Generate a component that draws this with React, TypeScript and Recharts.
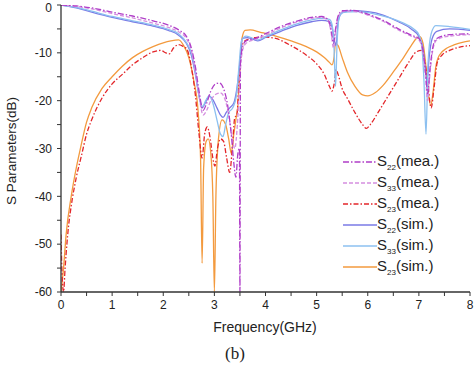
import React from 'react';
import { LineChart, Line, XAxis, YAxis } from 'recharts';

type P = [number, number];

const X_TICKS = [0, 0.5, 1, 1.5, 2, 2.5, 3, 3.5, 4, 4.5, 5, 5.5, 6, 6.5, 7, 7.5, 8];
const Y_TICKS = [-60, -55, -50, -45, -40, -35, -30, -25, -20, -15, -10, -5, 0];

const S22_MEA: P[] = [
  [0, 0], [0.3, -0.2], [0.6, -0.6], [1.0, -1.5], [1.4, -2.3], [1.8, -3.3], [2.1, -4.2], [2.3, -5.2],
  [2.45, -6.5], [2.55, -9], [2.63, -13], [2.7, -18], [2.78, -22], [2.85, -20.5], [2.93, -18], [3.02, -16.5],
  [3.1, -16.3], [3.18, -17.5], [3.26, -21], [3.33, -27], [3.38, -33], [3.42, -36], [3.46, -31], [3.49, -30],
  [3.5, -60], [3.51, -12], [3.56, -8.5], [3.62, -7.5], [3.8, -7], [4.0, -6], [4.3, -4.5], [4.6, -3.4],
  [4.9, -2.6], [5.1, -2.4], [5.22, -3], [5.28, -5], [5.33, -8], [5.37, -5], [5.42, -2.3], [5.5, -1.2],
  [5.7, -1.1], [6.0, -1.9], [6.3, -3.2], [6.6, -5], [6.85, -6.3], [7.0, -7], [7.08, -9.5], [7.13, -14],
  [7.17, -18.5], [7.22, -13], [7.28, -8.5], [7.35, -7], [7.6, -6.2], [8.0, -6],
];

const S33_MEA: P[] = [
  [0, 0], [0.3, -0.3], [0.6, -0.8], [1.0, -1.8], [1.4, -2.7], [1.8, -3.8], [2.1, -4.7], [2.3, -5.6],
  [2.45, -7], [2.55, -9.5], [2.63, -14], [2.7, -19], [2.78, -23], [2.85, -22], [2.93, -20], [3.02, -18.7],
  [3.12, -18.4], [3.2, -19.5], [3.28, -23], [3.35, -28], [3.4, -30], [3.45, -25], [3.5, -15], [3.55, -9.5],
  [3.62, -8], [3.8, -7.2], [4.0, -6.3], [4.3, -4.8], [4.6, -3.6], [4.9, -2.8], [5.1, -2.6], [5.22, -3.2],
  [5.28, -5.5], [5.33, -9], [5.37, -5.5], [5.42, -2.5], [5.5, -1.4], [5.7, -1.3], [6.0, -2.1], [6.3, -3.4],
  [6.6, -5.2], [6.85, -6.5], [7.0, -7.3], [7.08, -10], [7.13, -15], [7.17, -20], [7.22, -14], [7.28, -9],
  [7.35, -7.3], [7.6, -6.5], [8.0, -6.2],
];

const S23_MEA: P[] = [
  [0, -48], [0.02, -56], [0.05, -60], [0.08, -55], [0.15, -46], [0.2, -42], [0.3, -36], [0.4, -31.5],
  [0.5, -27], [0.6, -24], [0.8, -19.5], [1.0, -16.5], [1.2, -14.5], [1.4, -12.5], [1.6, -11], [1.8, -9.8],
  [1.95, -9.5], [2.05, -10], [2.12, -10.2], [2.2, -9], [2.3, -8.3], [2.38, -8.6], [2.46, -9.2], [2.55, -13],
  [2.63, -19], [2.7, -27], [2.76, -32], [2.81, -27], [2.86, -25.5], [2.92, -28], [2.97, -32], [3.01, -33.7],
  [3.06, -30], [3.12, -28], [3.18, -28.5], [3.24, -32], [3.3, -35], [3.35, -30], [3.4, -23.5], [3.44, -23],
  [3.48, -16], [3.53, -9], [3.6, -7.5], [3.8, -6.8], [4.0, -6.7], [4.2, -7], [4.5, -8.5], [4.8, -10.5],
  [5.0, -12.3], [5.15, -14.5], [5.25, -17], [5.3, -18], [5.35, -16], [5.38, -13.5], [5.42, -14.5],
  [5.5, -17.5], [5.6, -19.5], [5.75, -22.5], [5.9, -25], [5.97, -25.8], [6.05, -25], [6.2, -22.5],
  [6.4, -19], [6.6, -15.5], [6.8, -12], [6.95, -9.8], [7.05, -9.5], [7.12, -12], [7.18, -17], [7.24, -21.5],
  [7.3, -17], [7.36, -12], [7.45, -10.5], [7.6, -9.5], [7.8, -8.8], [8.0, -8.5],
];

const S22_SIM: P[] = [
  [0, 0], [0.3, -0.6], [0.6, -1.5], [1.0, -2.6], [1.4, -3.5], [1.8, -4.4], [2.1, -5.3], [2.3, -6.3],
  [2.45, -8], [2.55, -10.5], [2.62, -14], [2.7, -19], [2.76, -21.5], [2.82, -20.5], [2.9, -19], [2.97, -19.8],
  [3.05, -21.5], [3.12, -23], [3.17, -23.5], [3.23, -22.5], [3.3, -21.5], [3.38, -20.5], [3.44, -17.5],
  [3.5, -12], [3.55, -7], [3.65, -6.8], [3.85, -7.5], [4.0, -6.8], [4.3, -5.5], [4.6, -4.3], [4.9, -3.5],
  [5.1, -3.2], [5.25, -3.5], [5.3, -4.5], [5.35, -7.5], [5.38, -8.5], [5.42, -3.5], [5.5, -1.6], [5.7, -1.2],
  [6.0, -1.4], [6.3, -2.1], [6.6, -3.5], [6.85, -5], [7.0, -6.6], [7.08, -9], [7.12, -13], [7.16, -16],
  [7.2, -11], [7.26, -7], [7.35, -5.5], [7.6, -5], [8.0, -5.3],
];

const S33_SIM: P[] = [
  [0, 0], [0.3, -0.5], [0.6, -1.3], [1.0, -2.4], [1.4, -3.3], [1.8, -4.2], [2.1, -5.1], [2.3, -6],
  [2.45, -7.8], [2.55, -10], [2.63, -14], [2.7, -19], [2.77, -21.2], [2.83, -20], [2.9, -19], [2.97, -20.5],
  [3.05, -24], [3.12, -27], [3.17, -27.5], [3.22, -25], [3.28, -22.5], [3.36, -21.5], [3.43, -19],
  [3.48, -13], [3.53, -7.5], [3.62, -6.5], [3.85, -7.3], [4.0, -6.6], [4.3, -5.2], [4.6, -4], [4.9, -3.1],
  [5.1, -2.8], [5.25, -3], [5.3, -4], [5.34, -9], [5.37, -17], [5.4, -8], [5.45, -2.2], [5.55, -1.5],
  [5.8, -1.4], [6.1, -1.8], [6.4, -2.6], [6.7, -3.8], [6.9, -5], [7.0, -6.2], [7.06, -9], [7.1, -16],
  [7.14, -27], [7.18, -12], [7.24, -6], [7.33, -4.3], [7.6, -4.5], [8.0, -5.1],
];

const S23_SIM: P[] = [
  [0, -60], [0.05, -55], [0.1, -48], [0.2, -40], [0.3, -34], [0.38, -30], [0.5, -24.5], [0.6, -21.5],
  [0.8, -17.5], [1.0, -15], [1.2, -12.8], [1.4, -11], [1.6, -9.7], [1.8, -8.7], [2.0, -7.9], [2.15, -7.5],
  [2.3, -7.3], [2.4, -8.5], [2.5, -11], [2.6, -16], [2.68, -22], [2.73, -32], [2.76, -54], [2.79, -34],
  [2.84, -28.5], [2.88, -28], [2.93, -31], [2.97, -40], [3.0, -60], [3.03, -40], [3.08, -28], [3.15, -24],
  [3.22, -25], [3.28, -28], [3.33, -31], [3.38, -27], [3.42, -24], [3.46, -21], [3.5, -13], [3.54, -7],
  [3.6, -5.3], [3.7, -5.2], [3.9, -5.7], [4.2, -6.5], [4.5, -7.5], [4.8, -8.7], [5.0, -9.8], [5.15, -11],
  [5.25, -12], [5.3, -12.5], [5.34, -11], [5.37, -8], [5.42, -8.5], [5.5, -11], [5.6, -14], [5.75, -17],
  [5.9, -18.8], [6.0, -19], [6.15, -18.3], [6.3, -16.8], [6.5, -14], [6.7, -11], [6.85, -8.5], [6.95, -7],
  [7.02, -6.6], [7.08, -8], [7.13, -12], [7.18, -18], [7.23, -21], [7.28, -18], [7.33, -13], [7.4, -10.5],
  [7.55, -9], [7.7, -8.3], [7.85, -7.8], [8.0, -7.5],
];

const SERIES = [
  { name: 'S23sim', sub: '23', tag: '(sim.)', pts: S23_SIM, color: '#f39a3e', dash: undefined as string | undefined },
  { name: 'S23mea', sub: '23', tag: '(mea.)', pts: S23_MEA, color: '#e3262a', dash: '5 2 1.5 2' },
  { name: 'S22sim', sub: '22', tag: '(sim.)', pts: S22_SIM, color: '#7a7ae6', dash: undefined },
  { name: 'S33sim', sub: '33', tag: '(sim.)', pts: S33_SIM, color: '#8cc0f0', dash: undefined },
  { name: 'S33mea', sub: '33', tag: '(mea.)', pts: S33_MEA, color: '#d58fe0', dash: '4 2' },
  { name: 'S22mea', sub: '22', tag: '(mea.)', pts: S22_MEA, color: '#b03ec8', dash: '6 2 1.5 2' },
];

const LEGEND_ORDER = ['S22mea', 'S33mea', 'S23mea', 'S22sim', 'S33sim', 'S23sim'];

const toPts = (a: P[]) => a.map(([f, v]) => ({ f, v }));

const FONT = '"Liberation Sans", Arial, sans-serif';
const AX = '#333';

export default function App() {
  return (
    <div style={{ position: 'absolute', left: 0, top: 0, width: 474, height: 366, background: '#fff', fontFamily: FONT }}>
      <LineChart width={474} height={366} margin={{ top: 5, right: 4, bottom: 44, left: 0 }}>
        <XAxis
          dataKey="f"
          type="number"
          domain={[0, 8]}
          ticks={X_TICKS}
          allowDataOverflow
          tickFormatter={(v: number) => (Number.isInteger(v) ? String(v) : '')}
          height={30}
          tickSize={4}
          tickMargin={4}
          stroke={AX}
          axisLine={{ stroke: AX, strokeWidth: 1.3 }}
          tickLine={{ stroke: AX }}
          tick={{ fill: '#222', fontSize: 12, fontFamily: FONT }}
        />
        <XAxis
          xAxisId="top"
          orientation="top"
          type="number"
          domain={[0, 8]}
          ticks={X_TICKS}
          height={0}
          mirror
          tickSize={4}
          tickFormatter={() => ''}
          axisLine={{ stroke: AX, strokeWidth: 1.3 }}
          tickLine={{ stroke: AX }}
        />
        <YAxis
          type="number"
          domain={[-60, 0]}
          ticks={Y_TICKS}
          allowDataOverflow
          tickFormatter={(v: number) => (v % 10 === 0 ? String(v) : '')}
          width={61}
          tickSize={4}
          tickMargin={5}
          axisLine={{ stroke: AX, strokeWidth: 1.3 }}
          tickLine={{ stroke: AX }}
          tick={{ fill: '#222', fontSize: 12, fontFamily: FONT }}
        />
        <YAxis
          yAxisId="right"
          orientation="right"
          type="number"
          domain={[-60, 0]}
          ticks={Y_TICKS}
          width={0}
          mirror
          tickSize={5}
          tickFormatter={() => ''}
          axisLine={{ stroke: AX, strokeWidth: 1.3 }}
          tickLine={{ stroke: AX }}
        />
        {SERIES.map((s) => (
          <Line
            key={s.name}
            data={toPts(s.pts)}
            dataKey="v"
            name={s.name}
            type="monotone"
            dot={false}
            activeDot={false}
            stroke={s.color}
            strokeWidth={1.3}
            strokeDasharray={s.dash}
            isAnimationActive={false}
          />
        ))}
      </LineChart>

      <div
        style={{
          position: 'absolute',
          left: 11,
          top: 151,
          transform: 'translate(-50%, -50%) rotate(-90deg)',
          whiteSpace: 'nowrap',
          fontSize: 13.5,
          color: '#222',
        }}
      >
        S Parameters(dB)
      </div>
      <div
        style={{
          position: 'absolute',
          left: 265,
          top: 327,
          transform: 'translate(-50%, -50%)',
          whiteSpace: 'nowrap',
          fontSize: 14,
          color: '#222',
        }}
      >
        Frequency(GHz)
      </div>
      <div
        style={{
          position: 'absolute',
          left: 235,
          top: 354,
          transform: 'translate(-50%, -50%)',
          whiteSpace: 'nowrap',
          fontSize: 17,
          fontFamily: '"Liberation Serif", "Times New Roman", serif',
          color: '#222',
        }}
      >
        (b)
      </div>

      {LEGEND_ORDER.map((key, i) => {
        const s = SERIES.find((x) => x.name === key)!;
        const cy = 162 + i * 21;
        return (
          <div key={key} style={{ position: 'absolute', left: 342, top: cy - 10, height: 20, display: 'flex', alignItems: 'center' }}>
            <svg width={35} height={20} style={{ display: 'block' }}>
              <line x1={1} y1={10} x2={35} y2={10} stroke={s.color} strokeWidth={1.5} strokeDasharray={s.dash} />
            </svg>
            <span style={{ fontSize: 15, color: '#222', whiteSpace: 'nowrap', lineHeight: '20px' }}>
              S<sub style={{ fontSize: 8, verticalAlign: 'baseline', position: 'relative', top: 4 }}>{s.sub}</sub>
              {s.tag}
            </span>
          </div>
        );
      })}
    </div>
  );
}
